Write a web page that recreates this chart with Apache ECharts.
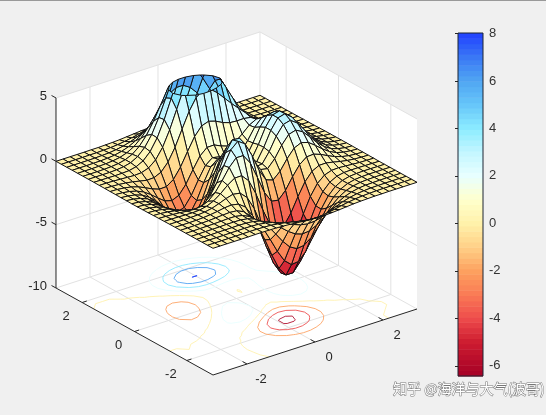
<!DOCTYPE html>
<html>
<head>
<meta charset="utf-8">
<style>
  html, body { margin: 0; padding: 0; background: #f0f0f0; }
  #main { width: 546px; height: 415px; }
</style>
<script src="https://cdn.jsdelivr.net/npm/echarts@6/dist/echarts.min.js"></script>
</head>
<body>
<div id="main"></div>
<script>
// mesh positions on both floor axes (30 lines, -3 to 3)
var gridSteps = 29;
var xLimits = [-3, 3];
var yLimits = [-3, 3];
var zLimits = [-10, 5];
var xTicks = [-2, 0, 2];
var yTicks = [-2, 0, 2];
var zTicks = [-10, -5, 0, 5];
var contourLevels = [-6, -4, -2, 0, 2, 4, 6, 8];
var colorTicks = [-6, -4, -2, 0, 2, 4, 6, 8];
var colorRange = [-6.43, 8.02];
var colorBins = 64;

// colormap
var cmapValues = [-6.43, -5, -4, -3, -2, -1, 0, 1, 2, 3, 4, 5, 6, 7, 8.02];
var cmapColors = [
  [165, 0, 38], [205, 28, 48], [238, 76, 76], [250, 122, 85], [253, 161, 95],
  [255, 208, 135], [255, 241, 170], [255, 255, 204], [232, 255, 255], [196, 246, 255],
  [140, 236, 255], [103, 198, 250], [80, 166, 242], [58, 120, 245], [32, 64, 255]
];

// surface heights, one row per y line (low y first), estimated by eye plus the
// recognisable shape of the classic peaks surface; kept as plain estimated values
var zRows = [
  [0,0,0,0,0,0,.01,.01,0,-.01,-.04,-.08,-.13,-.19,-.23,-.25,-.25,-.22,-.18,-.13,-.08,-.05,-.03,-.01,-.01,0,0,0,0,0],
  [0,0,0,0,0,.01,.01,.01,-.01,-.04,-.11,-.2,-.32,-.44,-.54,-.59,-.58,-.51,-.41,-.29,-.19,-.11,-.06,-.03,-.01,0,0,0,0,0],
  [0,0,0,0,.01,.01,.02,.01,-.02,-.1,-.23,-.43,-.68,-.93,-1.13,-1.23,-1.2,-1.06,-.84,-.6,-.39,-.23,-.12,-.06,-.02,-.01,0,0,0,0],
  [0,0,0,.01,.01,.02,.03,.01,-.04,-.18,-.42,-.79,-1.24,-1.71,-2.08,-2.27,-2.21,-1.95,-1.54,-1.1,-.71,-.41,-.22,-.1,-.04,-.02,-.01,0,0,0],
  [0,0,.01,.01,.02,.04,.04,.03,-.06,-.26,-.65,-1.23,-1.97,-2.73,-3.35,-3.66,-3.59,-3.16,-2.51,-1.79,-1.15,-.66,-.34,-.16,-.06,-.02,-.01,0,0,0],
  [0,0,.01,.02,.03,.05,.08,.07,-.03,-.29,-.8,-1.61,-2.65,-3.75,-4.67,-5.16,-5.09,-4.5,-3.57,-2.53,-1.61,-.91,-.46,-.2,-.07,-.02,0,0,0,0],
  [0,0,.01,.02,.04,.08,.12,.15,.1,-.15,-.7,-1.63,-2.9,-4.3,-5.52,-6.22,-6.22,-5.53,-4.38,-3.09,-1.93,-1.06,-.5,-.2,-.06,-.01,.01,.01,0,0],
  [0,0,0,.01,.04,.09,.17,.27,.32,.21,-.2,-1.06,-2.35,-3.9,-5.35,-6.28,-6.43,-5.79,-4.57,-3.17,-1.9,-.96,-.39,-.1,.01,.03,.03,.02,.01,0],
  [0,0,-.01,0,.02,.07,.18,.37,.59,.75,.66,.14,-.91,-2.38,-3.92,-5.06,-5.45,-5.01,-3.92,-2.6,-1.4,-.55,-.07,.12,.15,.11,.07,.03,.02,.01],
  [-.01,-.01,-.02,-.04,-.05,-.02,.1,.34,.74,1.23,1.61,1.62,1.04,-.14,-1.62,-2.91,-3.57,-3.41,-2.59,-1.48,-.48,.17,.46,.47,.36,.23,.13,.06,.03,.01],
  [-.01,-.03,-.06,-.1,-.16,-.2,-.15,.09,.59,1.36,2.21,2.8,2.79,2.02,.71,-.65,-1.53,-1.62,-1.03,-.14,.64,1.07,1.11,.91,.63,.38,.2,.09,.04,.02],
  [-.02,-.04,-.1,-.19,-.33,-.48,-.57,-.45,.04,.94,2.12,3.19,3.68,3.31,2.21,.87,-.08,-.27,.24,1.05,1.71,1.96,1.8,1.39,.93,.54,.28,.13,.06,.02],
  [-.03,-.06,-.14,-.29,-.52,-.83,-1.1,-1.18,-.85,.03,1.35,2.71,3.56,3.51,2.61,1.39,.5,.39,.99,1.88,2.55,2.71,2.4,1.82,1.2,.7,.36,.17,.07,.03],
  [-.03,-.08,-.19,-.38,-.7,-1.15,-1.62,-1.94,-1.81,-1.07,.24,1.72,2.78,2.96,2.26,1.19,.46,.53,1.32,2.36,3.1,3.25,2.85,2.14,1.41,.82,.42,.2,.08,.03],
  [-.04,-.09,-.21,-.44,-.83,-1.38,-2.01,-2.51,-2.59,-2.02,-.81,.68,1.84,2.17,1.66,.78,.23,.47,1.42,2.58,3.38,3.53,3.09,2.32,1.52,.88,.46,.21,.09,.03],
  [-.04,-.09,-.22,-.46,-.87,-1.46,-2.16,-2.78,-3,-2.59,-1.52,-.12,1.04,1.47,1.11,.42,.04,.39,1.4,2.58,3.38,3.52,3.08,2.31,1.51,.88,.45,.21,.09,.03],
  [-.03,-.09,-.21,-.43,-.82,-1.39,-2.08,-2.71,-3,-2.71,-1.81,-.58,.49,.94,.72,.19,-.06,.33,1.29,2.37,3.11,3.23,2.82,2.11,1.38,.8,.41,.19,.08,.03],
  [-.03,-.08,-.18,-.37,-.71,-1.2,-1.79,-2.35,-2.62,-2.41,-1.66,-.61,.34,.79,.68,.3,.12,.45,1.23,2.11,2.69,2.77,2.4,1.79,1.17,.68,.35,.16,.07,.03],
  [-.02,-.06,-.14,-.29,-.54,-.92,-1.37,-1.78,-1.94,-1.7,-1.01,-.04,.86,1.36,1.38,1.12,.93,1.07,1.52,2.04,2.34,2.3,1.94,1.42,.92,.53,.27,.13,.05,.02],
  [-.02,-.04,-.1,-.2,-.37,-.62,-.89,-1.09,-1.07,-.68,.11,1.15,2.15,2.82,3.01,2.84,2.55,2.36,2.32,2.33,2.24,1.97,1.56,1.11,.7,.4,.2,.09,.04,.01],
  [-.01,-.03,-.06,-.12,-.21,-.33,-.44,-.42,-.17,.45,1.44,2.69,3.91,4.82,5.22,5.12,4.67,4.07,3.47,2.91,2.37,1.83,1.32,.87,.53,.29,.14,.06,.03,.01],
  [-.01,-.01,-.03,-.06,-.09,-.12,-.08,.11,.56,1.38,2.57,4.01,5.46,6.58,7.16,7.1,6.5,5.56,4.5,3.46,2.53,1.76,1.16,.71,.4,.21,.1,.04,.02,.01],
  [0,-.01,-.01,-.02,-.01,.02,.15,.43,.99,1.89,3.15,4.65,6.16,7.37,8.02,7.99,7.33,6.22,4.92,3.64,2.53,1.65,1.01,.58,.31,.15,.07,.03,.01,0],
  [0,0,0,0,.03,.09,.23,.54,1.08,1.92,3.08,4.44,5.82,6.94,7.55,7.54,6.91,5.85,4.58,3.32,2.25,1.41,.83,.45,.23,.11,.05,.02,.01,0],
  [0,0,0,.01,.04,.1,.23,.48,.93,1.61,2.53,3.61,4.71,5.6,6.1,6.09,5.59,4.72,3.68,2.64,1.76,1.08,.62,.33,.16,.07,.03,.01,0,0],
  [0,0,0,.01,.03,.08,.17,.36,.67,1.15,1.79,2.54,3.3,3.92,4.26,4.26,3.91,3.3,2.56,1.83,1.21,.74,.42,.22,.1,.05,.02,.01,0,0],
  [0,0,0,.01,.02,.05,.11,.23,.42,.71,1.1,1.56,2.03,2.41,2.62,2.62,2.41,2.03,1.57,1.12,.74,.45,.25,.13,.06,.03,.01,0,0,0],
  [0,0,0,0,.01,.03,.06,.13,.23,.39,.6,.85,1.1,1.31,1.42,1.42,1.31,1.1,.85,.61,.4,.24,.13,.07,.03,.01,.01,0,0,0],
  [0,0,0,0,.01,.01,.03,.06,.11,.19,.29,.41,.53,.63,.69,.69,.63,.53,.41,.29,.19,.11,.06,.03,.02,.01,0,0,0,0],
  [0,0,0,0,0,.01,.01,.03,.05,.08,.13,.18,.23,.27,.3,.3,.27,.23,.18,.13,.08,.05,.03,.01,.01,0,0,0,0,0]
];

var AXIS_FONT = '"Liberation Sans", Arial, sans-serif';
var AXIS_COLOR = '#262626';
var GRID_COLOR = '#e2e2e2';

function gridX(i) { return xLimits[0] + (xLimits[1] - xLimits[0]) * i / gridSteps; }
function gridY(j) { return yLimits[0] + (yLimits[1] - yLimits[0]) * j / gridSteps; }

// oblique view of the box, in the page's own units
function project(x, y, z) {
  return [
    236.5 + 34 * x - 26.17 * y,
    298.5 - 11 * x - 14.5 * y - 12.67 * (z - zLimits[0])
  ];
}

function colorOf(v) {
  var t = (v - colorRange[0]) / (colorRange[1] - colorRange[0]);
  var bin = Math.max(0, Math.min(colorBins - 1, Math.floor(t * colorBins)));
  var mid = colorRange[0] + (bin + 0.5) / colorBins * (colorRange[1] - colorRange[0]);
  var k = 0;
  while (k < cmapValues.length - 2 && mid > cmapValues[k + 1]) k++;
  var f = (mid - cmapValues[k]) / (cmapValues[k + 1] - cmapValues[k]);
  var a = cmapColors[k], b = cmapColors[k + 1];
  return 'rgb(' + [0, 1, 2].map(function (n) { return Math.round(a[n] + (b[n] - a[n]) * f); }).join(',') + ')';
}

// cut a cell at the top of the box, the surface goes above it
function clipTop(verts) {
  var top = zLimits[1], out = [];
  for (var n = 0; n < verts.length; n++) {
    var p = verts[n], q = verts[(n + 1) % verts.length];
    if (p[2] <= top) out.push(p);
    if ((p[2] <= top) !== (q[2] <= top)) {
      var f = (top - p[2]) / (q[2] - p[2]);
      out.push([p[0] + (q[0] - p[0]) * f, p[1] + (q[1] - p[1]) * f, top]);
    }
  }
  return out;
}

// far cells first
var cellData = [];
for (var j = gridSteps - 1; j >= 0; j--) {
  for (var i = gridSteps - 1; i >= 0; i--) cellData.push([i, j]);
}

// contour segments on the floor
var contourData = [];
contourLevels.forEach(function (level) {
  function cross(a, b, za, zb) {
    var f = (level - za) / (zb - za);
    return [a[0] + (b[0] - a[0]) * f, a[1] + (b[1] - a[1]) * f];
  }
  for (var j = 0; j < gridSteps; j++) {
    for (var i = 0; i < gridSteps; i++) {
      var corners = [[gridX(i), gridY(j)], [gridX(i + 1), gridY(j)], [gridX(i + 1), gridY(j + 1)], [gridX(i), gridY(j + 1)]];
      var hs = [zRows[j][i], zRows[j][i + 1], zRows[j + 1][i + 1], zRows[j + 1][i]];
      var pts = [];
      for (var n = 0; n < 4; n++) {
        var m = (n + 1) % 4;
        if ((hs[n] >= level) !== (hs[m] >= level)) pts.push(cross(corners[n], corners[m], hs[n], hs[m]));
      }
      for (var s = 0; s + 1 < pts.length; s += 2) {
        contourData.push([level, pts[s][0], pts[s][1], pts[s + 1][0], pts[s + 1][1]]);
      }
    }
  }
});

function linesFor(kind) {
  var out = [];
  var x0 = xLimits[0], x1 = xLimits[1], y0 = yLimits[0], y1 = yLimits[1], z0 = zLimits[0], z1 = zLimits[1];
  if (kind === 'grid') {
    xTicks.forEach(function (t) {
      out.push([t, y0, z0, t, y1, z0]);
      out.push([t, y1, z0, t, y1, z1]);
    });
    yTicks.forEach(function (t) {
      out.push([x0, t, z0, x1, t, z0]);
      out.push([x1, t, z0, x1, t, z1]);
    });
    zTicks.forEach(function (t) {
      out.push([x0, y1, t, x1, y1, t]);
      out.push([x1, y1, t, x1, y0, t]);
    });
    out.push([x1, y1, z0, x1, y1, z1]);
  } else {
    out.push([x0, y0, z0, x1, y0, z0]);
    out.push([x0, y0, z0, x0, y1, z0]);
    out.push([x0, y1, z0, x0, y1, z1]);
    var tick = 0.17;
    xTicks.forEach(function (t) { out.push([t, y0, z0, t, y0 + tick, z0]); });
    yTicks.forEach(function (t) { out.push([x0, t, z0, x0 + tick * 0.8, t, z0]); });
    zTicks.forEach(function (t) { out.push([x0, y1, t, x0, y1 + tick, t]); });
  }
  return out;
}

function lineSeries(kind, color, width, z) {
  return {
    type: 'custom', coordinateSystem: 'cartesian2d', xAxisIndex: 0, yAxisIndex: 0,
    silent: true, clip: false, progressive: 0, z: z,
    data: linesFor(kind),
    renderItem: function (params, api) {
      var a = api.coord(project(api.value(0), api.value(1), api.value(2)));
      var b = api.coord(project(api.value(3), api.value(4), api.value(5)));
      return {
        type: 'line',
        shape: { x1: a[0], y1: a[1], x2: b[0], y2: b[1] },
        style: { stroke: color, lineWidth: width }
      };
    }
  };
}

function tickLabelData() {
  var out = [];
  xTicks.forEach(function (t) { out.push([t, yLimits[0], zLimits[0], 14, 15, 'center', String(t)]); });
  yTicks.forEach(function (t) { out.push([xLimits[0], t, zLimits[0], -16, 14, 'center', String(t)]); });
  zTicks.forEach(function (t) { out.push([xLimits[0], yLimits[1], t, -9, -2, 'right', String(t)]); });
  return out;
}

var chart = echarts.init(document.getElementById('main'), null, { renderer: 'canvas' });

chart.setOption({
  animation: false,
  backgroundColor: '#f0f0f0',
  grid: [
    { left: 0, top: 0, width: 546, height: 415 },
    { left: 458, top: 33, width: 25, height: 343 }
  ],
  xAxis: [
    { type: 'value', min: 0, max: 546, show: false, gridIndex: 0 },
    { type: 'value', min: 0, max: 1, show: false, gridIndex: 1 }
  ],
  yAxis: [
    { type: 'value', min: 0, max: 415, inverse: true, show: false, gridIndex: 0 },
    {
      type: 'value', gridIndex: 1, position: 'right',
      min: colorRange[0], max: colorRange[1],
      splitLine: { show: false },
      axisLine: { show: false },
      axisTick: { show: true, inside: true, length: 3, customValues: colorTicks, lineStyle: { color: AXIS_COLOR } },
      axisLabel: {
        show: true, customValues: colorTicks, margin: 6,
        fontFamily: AXIS_FONT, fontSize: 13, color: '#333'
      },
      z: 20
    }
  ],
  graphic: [
    { type: 'rect', shape: { x: 0, y: 0, width: 546, height: 1 }, style: { fill: '#999' }, silent: true },
    {
      type: 'text', x: 393, y: 382, silent: true, z: 50,
      style: {
        text: '知乎 @海洋与大气(波哥)',
        font: '14px "Noto Sans CJK SC", sans-serif',
        fill: '#fff', stroke: '#777', lineWidth: 1
      }
    }
  ],
  series: [
    // white box behind the surface
    {
      type: 'custom', coordinateSystem: 'cartesian2d', xAxisIndex: 0, yAxisIndex: 0,
      silent: true, clip: false, z: 1, data: [[0]],
      renderItem: function (params, api) {
        var x0 = xLimits[0], x1 = xLimits[1], y0 = yLimits[0], y1 = yLimits[1], z0 = zLimits[0], z1 = zLimits[1];
        var hull = [
          [x0, y1, z0], [x0, y1, z1], [x1, y1, z1], [x1, y0, z1], [x1, y0, z0], [x0, y0, z0]
        ].map(function (p) { return api.coord(project(p[0], p[1], p[2])); });
        return { type: 'polygon', shape: { points: hull }, style: { fill: '#fff' } };
      }
    },
    lineSeries('grid', GRID_COLOR, 1, 2),
    // contours on the floor
    {
      type: 'custom', coordinateSystem: 'cartesian2d', xAxisIndex: 0, yAxisIndex: 0,
      silent: true, clip: false, progressive: 0, z: 3, data: contourData,
      renderItem: function (params, api) {
        var a = api.coord(project(api.value(1), api.value(2), zLimits[0]));
        var b = api.coord(project(api.value(3), api.value(4), zLimits[0]));
        return {
          type: 'line',
          shape: { x1: a[0], y1: a[1], x2: b[0], y2: b[1] },
          style: { stroke: colorOf(api.value(0)), lineWidth: 1, opacity: 0.85 }
        };
      }
    },
    // surface cells
    {
      type: 'custom', coordinateSystem: 'cartesian2d', xAxisIndex: 0, yAxisIndex: 0,
      silent: true, clip: false, progressive: 0, z: 4, data: cellData,
      renderItem: function (params, api) {
        var i = api.value(0), j = api.value(1);
        var verts = clipTop([
          [gridX(i), gridY(j), zRows[j][i]],
          [gridX(i + 1), gridY(j), zRows[j][i + 1]],
          [gridX(i + 1), gridY(j + 1), zRows[j + 1][i + 1]],
          [gridX(i), gridY(j + 1), zRows[j + 1][i]]
        ]);
        if (verts.length < 3) return null;
        return {
          type: 'polygon',
          shape: { points: verts.map(function (p) { return api.coord(project(p[0], p[1], p[2])); }) },
          style: { fill: colorOf(zRows[j][i]), stroke: '#111', lineWidth: 1 }
        };
      }
    },
    lineSeries('axes', AXIS_COLOR, 1, 5),
    // tick labels of the box
    {
      type: 'custom', coordinateSystem: 'cartesian2d', xAxisIndex: 0, yAxisIndex: 0,
      silent: true, clip: false, z: 6, data: tickLabelData(),
      dimensions: ['x', 'y', 'z', 'dx', 'dy', 'align', 'text'],
      encode: { x: 0, y: 1 },
      renderItem: function (params, api) {
        var row = tickLabelData()[params.dataIndex];
        var p = api.coord(project(row[0], row[1], row[2]));
        return {
          type: 'text',
          style: {
            x: p[0] + row[3], y: p[1] + row[4], text: row[6], align: row[5], verticalAlign: 'middle',
            font: '13px ' + AXIS_FONT, fill: AXIS_COLOR
          }
        };
      }
    },
    // colorbar
    {
      type: 'custom', coordinateSystem: 'cartesian2d', xAxisIndex: 1, yAxisIndex: 1,
      silent: true, clip: false, progressive: 0, z: 4,
      data: Array.from({ length: colorBins }, function (_, n) { return [n]; }),
      renderItem: function (params, api) {
        var n = api.value(0);
        var span = colorRange[1] - colorRange[0];
        var lo = colorRange[0] + n / colorBins * span, hi = colorRange[0] + (n + 1) / colorBins * span;
        var a = api.coord([0, hi]), b = api.coord([1, lo]);
        return {
          type: 'rect',
          shape: { x: a[0], y: a[1], width: b[0] - a[0], height: b[1] - a[1] + 0.5 },
          style: { fill: colorOf((lo + hi) / 2) }
        };
      }
    },
    {
      type: 'custom', coordinateSystem: 'cartesian2d', xAxisIndex: 1, yAxisIndex: 1,
      silent: true, clip: false, z: 5, data: [[0]],
      renderItem: function (params, api) {
        var a = api.coord([0, colorRange[1]]), b = api.coord([1, colorRange[0]]);
        return {
          type: 'rect',
          shape: { x: a[0], y: a[1], width: b[0] - a[0], height: b[1] - a[1] },
          style: { fill: 'none', stroke: '#1c2433', lineWidth: 1 }
        };
      }
    }
  ]
});
</script>
</body>
</html>
